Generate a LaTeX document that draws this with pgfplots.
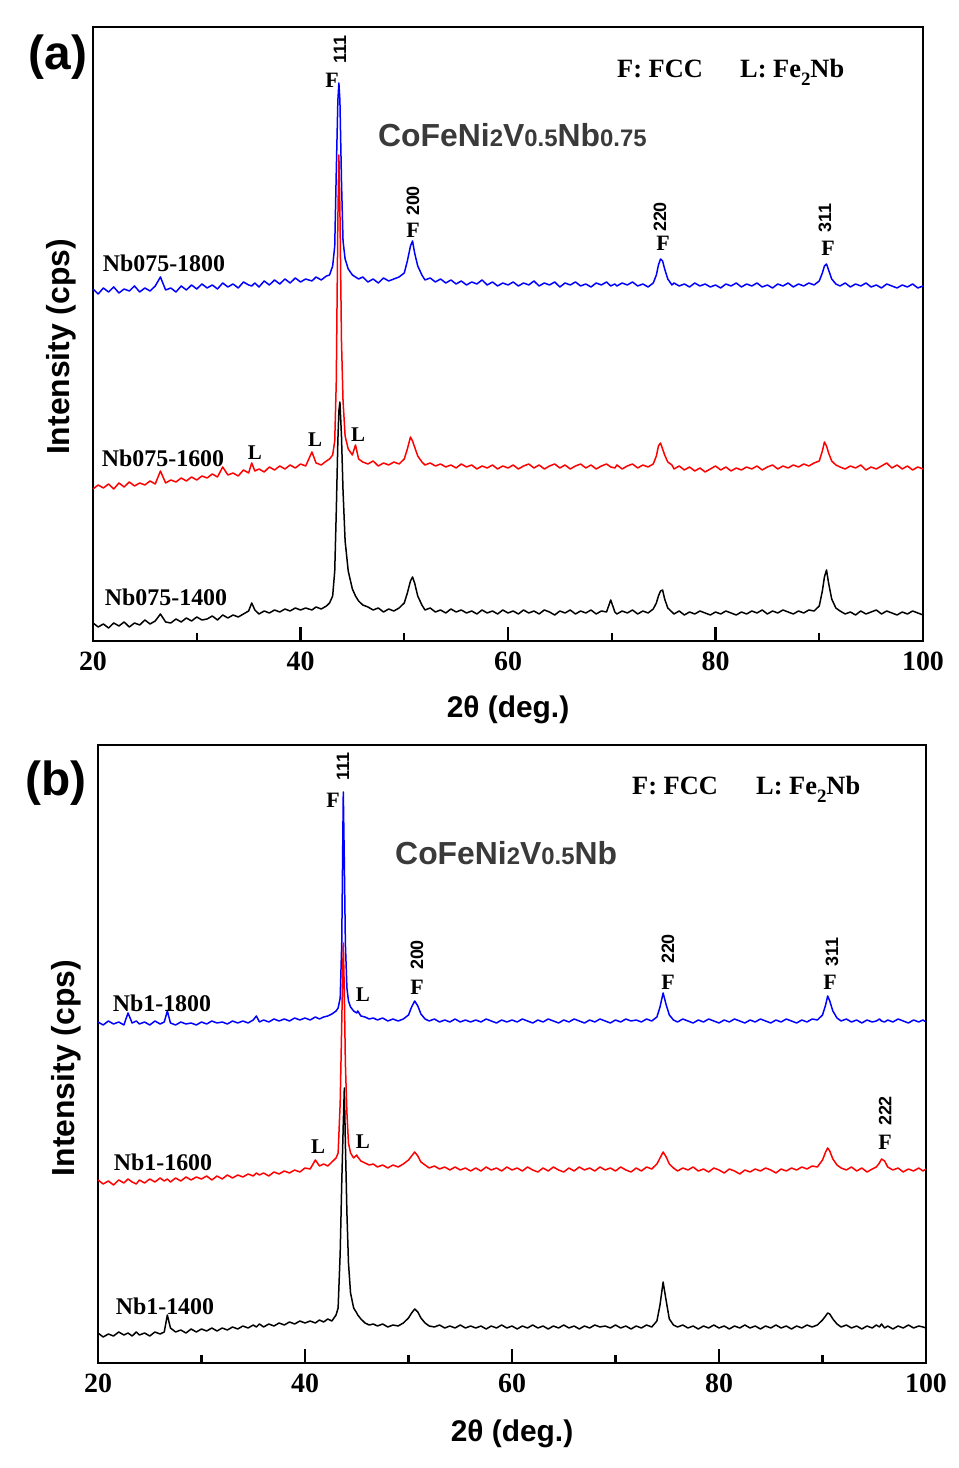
\documentclass[border=0pt]{standalone}
\usepackage{fontspec}
\setmainfont{Liberation Serif}
\newfontfamily\lsans{Liberation Sans}
\usepackage{pgfplots}
\usepackage{pgfplotstable}
\pgfplotsset{compat=1.18}
\definecolor{dgray}{RGB}{58,58,58}

% Panel (a): columns b = Nb075-1800, r = Nb075-1600, k = Nb075-1400 (offset intensities)
\pgfplotstableread{
x b r k
20.0 352 152 18
20.5 347 156 14
21.0 353 153 17
21.5 349 157 13
22.0 354 152 18
22.5 348 158 15
23.0 352 154 19
23.5 350 159 14
24.0 355 155 18
24.5 349 158 16
25.0 353 156 21
25.5 350 160 17
26.0 355 157 20
26.5 364 170 27
27.0 351 158 19
27.5 353 161 18
28.0 349 159 22
28.5 355 163 19
29.0 351 160 23
29.5 356 164 20
30.0 352 161 24
30.5 357 165 21
31.0 353 163 22
31.5 356 167 25
32.0 352 164 21
32.5 358 174 26
33.0 354 166 23
33.5 357 168 26
34.0 353 165 24
34.5 359 171 27
35.0 356 168 30
35.3 355 178 38
35.6 358 170 31
36.0 354 172 27
36.5 360 169 30
37.0 356 174 28
37.5 361 171 31
38.0 357 175 29
38.5 362 172 32
39.0 358 176 30
39.5 363 173 33
40.0 359 177 31
40.5 362 175 33
41.1 360 189 31
41.5 364 178 34
42.0 361 176 32
42.5 365 180 35
42.8 366 182 38
43.1 375 186 45
43.3 395 200 70
43.45 470 260 130
43.6 540 420 200
43.7 558 486 230
43.8 540 430 239
43.95 460 300 205
44.1 400 240 150
44.3 382 205 100
44.6 372 192 70
45.0 366 186 52
45.3 364 196 45
45.6 362 182 40
46.0 364 179 36
46.5 359 177 34
47.0 362 180 31
47.5 358 175 33
48.0 363 178 29
48.5 360 176 32
49.0 362 179 30
49.5 364 177 33
50.0 368 182 38
50.3 380 192 48
50.6 395 204 60
50.8 400 200 64
51.0 388 194 58
51.3 375 185 45
51.7 366 179 36
52.0 361 176 31
52.5 363 178 33
53.0 359 175 29
53.5 362 177 31
54.0 358 174 28
54.5 361 176 32
55.0 357 173 29
55.5 360 177 31
56.0 356 174 28
56.5 359 176 30
57.0 357 172 27
57.5 361 175 31
58.0 356 173 28
58.5 359 176 30
59.0 355 172 27
59.5 358 175 31
60.0 356 173 28
60.5 359 176 30
61.0 355 172 27
61.5 358 175 31
62.0 356 177 28
62.5 360 173 30
63.0 355 176 27
63.5 358 172 31
64.0 356 175 29
64.5 359 177 26
65.0 354 173 30
65.5 358 176 28
66.0 356 172 31
66.5 359 175 27
67.0 355 177 30
67.5 357 173 28
68.0 354 176 31
68.5 358 172 27
69.0 356 175 30
69.5 359 177 29
69.9 355 174 41
70.3 357 173 29
70.5 355 176 27
71.0 358 172 30
71.5 356 175 28
72.0 359 177 31
72.5 355 173 27
73.0 357 176 30
73.5 354 174 28
74.0 358 177 32
74.3 366 185 38
74.5 376 195 45
74.7 382 198 50
74.9 380 192 51
75.1 372 186 42
75.4 362 179 33
75.8 356 176 29
76.0 358 172 27
76.5 355 175 30
77.0 357 171 26
77.5 354 174 29
78.0 358 170 27
78.5 355 173 30
79.0 357 169 28
79.5 354 172 26
80.0 356 175 29
80.5 353 171 27
81.0 357 174 30
81.5 355 170 28
82.0 358 173 26
82.5 354 171 29
83.0 357 174 27
83.5 355 172 30
84.0 358 175 28
84.5 354 171 31
85.0 356 174 27
85.5 353 176 30
86.0 357 172 28
86.5 355 175 31
87.0 358 173 29
87.5 354 176 27
88.0 357 174 30
88.5 355 177 28
89.0 358 175 31
89.5 356 178 30
90.0 360 180 35
90.3 368 190 50
90.5 375 199 64
90.7 377 195 71
90.9 371 188 58
91.2 362 180 42
91.6 357 176 33
92.0 355 174 30
92.5 358 172 27
93.0 354 175 29
93.5 357 173 26
94.0 355 176 30
94.5 358 171 27
95.0 354 174 29
95.5 356 172 31
96.0 353 175 27
96.5 357 178 30
97.0 355 173 28
97.5 353 176 26
98.0 356 172 29
98.5 354 175 27
99.0 357 171 30
99.5 353 174 28
100.0 355 172 26
}\tablea

% Panel (b): columns b = Nb1-1800, r = Nb1-1600, k = Nb1-1400 (offset intensities)
\pgfplotstableread{
x b r k
20.0 341 183 30
20.5 338 179 26
21.0 342 182 29
21.5 339 178 27
22.0 341 183 31
22.5 338 180 28
22.9 350 184 30
23.3 340 181 27
23.7 342 179 31
24.0 339 183 28
24.5 341 180 30
25.0 338 184 27
25.5 342 181 31
26.0 339 185 29
26.4 341 182 31
26.7 352 184 48
27.0 340 181 35
27.5 338 185 31
28.0 341 182 33
28.5 339 186 30
29.0 340 183 34
29.5 338 186 31
30.0 341 184 34
30.5 339 187 32
31.0 342 183 35
31.5 340 187 32
32.0 341 184 35
32.5 339 188 33
33.0 342 185 36
33.5 340 188 34
34.0 342 186 37
34.5 340 189 35
35.0 343 187 38
35.3 347 190 36
35.6 341 188 39
36.0 343 190 36
36.5 341 187 39
37.0 344 191 37
37.5 342 189 40
38.0 344 192 38
38.5 342 190 41
39.0 345 193 39
39.5 343 191 42
40.0 345 195 40
40.5 343 194 42
41.0 346 203 40
41.4 344 197 43
41.8 346 199 41
42.2 347 197 44
42.6 349 201 42
43.0 352 205 48
43.2 355 210 55
43.4 365 260 110
43.55 420 340 180
43.7 571 420 240
43.8 500 370 275
43.9 420 300 220
44.05 375 250 150
44.2 362 220 100
44.4 356 210 70
44.7 352 205 55
45.0 350 208 50
45.1 352 206 48
45.4 347 202 44
45.8 346 200 40
46.2 344 198 38
46.6 345 199 39
47.0 343 196 37
47.5 345 198 39
48.0 342 195 36
48.5 344 198 38
49.0 342 196 37
49.5 344 199 40
50.0 348 203 45
50.3 356 207 50
50.6 362 211 54
50.9 357 207 51
51.2 349 201 45
51.6 344 198 40
52.0 342 195 37
52.5 344 197 36
53.0 341 194 38
53.5 343 196 35
54.0 341 193 37
54.5 344 196 35
55.0 341 193 38
55.5 343 195 35
56.0 341 192 37
56.5 343 195 35
57.0 341 192 37
57.5 344 196 34
58.0 342 193 37
58.5 340 195 35
59.0 343 192 38
59.5 341 196 35
60.0 343 193 37
60.5 341 195 34
61.0 344 192 37
61.5 342 196 35
62.0 340 193 38
62.5 343 191 35
63.0 341 195 37
63.5 344 192 34
64.0 342 196 37
64.5 340 193 35
65.0 343 191 38
65.5 341 195 35
66.0 344 192 37
66.5 342 196 34
67.0 340 193 37
67.5 343 195 35
68.0 341 192 38
68.5 344 196 36
69.0 342 193 37
69.5 340 195 35
70.0 343 192 38
70.5 341 196 35
71.0 344 193 37
71.5 342 191 34
72.0 343 195 37
72.5 341 192 35
73.0 344 196 38
73.5 342 194 36
74.0 346 199 42
74.3 356 205 58
74.6 370 211 81
74.9 358 206 62
75.2 348 199 44
75.6 343 195 38
76.0 341 192 36
76.5 344 195 38
77.0 342 193 35
77.5 340 196 37
78.0 343 192 34
78.5 341 194 37
79.0 344 191 35
79.5 342 195 38
80.0 340 193 35
80.5 343 190 37
81.0 341 194 34
81.5 344 192 37
82.0 342 189 35
82.5 340 193 38
83.0 343 191 35
83.5 341 194 37
84.0 344 192 34
84.5 342 195 37
85.0 340 193 35
85.5 343 190 38
86.0 341 194 35
86.5 344 192 37
87.0 342 195 34
87.5 340 193 37
88.0 343 196 35
88.5 341 194 38
89.0 344 197 36
89.5 343 196 38
90.0 348 203 43
90.3 358 211 47
90.5 367 215 50
90.7 362 212 49
91.0 352 204 44
91.4 345 198 39
91.8 342 195 36
92.3 344 193 38
92.8 341 196 35
93.3 343 192 37
93.8 340 195 34
94.3 343 191 37
94.8 341 194 35
95.2 342 196 38
95.5 344 200 36
95.7 342 204 39
96.0 341 202 35
96.3 343 196 37
96.8 341 193 34
97.3 344 195 37
97.8 342 191 35
98.3 340 194 38
98.8 343 192 35
99.3 341 195 37
99.7 343 192 36
100.0 341 194 35
}\tableb

\pgfplotsset{
  xrd/.style={
    anchor=south west, scale only axis,
    xmin=20, xmax=100, ymin=0,
    xtick={20,40,60,80,100}, minor xtick={30,50,70,90},
    ytick=\empty, xtick pos=bottom, tick align=inside,
    major tick length=14bp, minor tick length=8bp,
    axis line style={line width=2.4bp},
    every tick/.style={black, line width=2.4bp},
    /pgf/number format/assume math mode=true,
    xticklabel style={font=\fontsize{28}{28}\selectfont\bfseries, yshift=-7bp},
    label style={font=\lsans\bfseries\fontsize{30}{30}\selectfont},
    ylabel style={font=\lsans\bfseries\fontsize{32}{32}\selectfont},
    xlabel={2θ (deg.)}, ylabel={Intensity (cps)},
    every axis plot/.append style={line width=1.5bp, line join=round},
    clip=false,
  },
}
\tikzset{
  pk/.style={font=\bfseries\fontsize{22}{22}\selectfont, inner sep=0pt},
  hkl/.style={font=\lsans\bfseries\fontsize{18}{18}\selectfont, rotate=90, inner sep=0pt},
  Lb/.style={font=\bfseries\fontsize{21}{21}\selectfont, inner sep=0pt},
  smp/.style={font=\bfseries\fontsize{24}{24}\selectfont, inner sep=0pt},
  leg/.style={font=\bfseries\fontsize{26.5}{26.5}\selectfont, inner sep=0pt, anchor=base west},
  comp/.style={font=\lsans\bfseries\fontsize{32}{32}\selectfont, text=dgray, inner sep=0pt, anchor=base west},
}
\newcommand{\sm}[1]{{\fontsize{24}{24}\selectfont #1}}
\newcommand{\subtwo}{\raisebox{-0.28em}{\fontsize{19}{19}\selectfont 2}}

\begin{document}
\begin{tikzpicture}
\path[use as bounding box] (0,0) rectangle (959bp,1468bp);

% ---------------- panel (a)
\begin{axis}[xrd, at={(93bp,827bp)}, width=830bp, height=614bp, ymax=614,
  xlabel style={at={(axis description cs:0.5,-0.112)}, anchor=center},
  ylabel style={at={(axis description cs:-0.0386,0.479)}, anchor=center}]
\addplot[black] table[x=x, y=k] {\tablea};
\addplot[red] table[x=x, y=r] {\tablea};
\addplot[blue] table[x=x, y=b] {\tablea};
\node[pk] at (axis cs:43.04,561) {F};
\node[hkl] at (axis cs:43.8,591) {111};
\node[pk] at (axis cs:50.84,411) {F};
\node[hkl] at (axis cs:50.84,440) {200};
\node[pk] at (axis cs:74.94,398) {F};
\node[hkl] at (axis cs:74.65,424) {220};
\node[pk] at (axis cs:90.84,393) {F};
\node[hkl] at (axis cs:90.55,423) {311};
\node[Lb] at (axis cs:35.61,188) {L};
\node[Lb] at (axis cs:41.40,201) {L};
\node[Lb] at (axis cs:45.54,206) {L};
\node[smp] at (axis cs:26.84,378) {Nb075-1800};
\node[smp] at (axis cs:26.75,183) {Nb075-1600};
\node[smp] at (axis cs:27.04,44) {Nb075-1400};
\node[leg] at (axis cs:70.5,563) {F: FCC};
\node[leg] at (axis cs:82.36,563) {L: Fe\subtwo Nb};
\node[comp] at (axis cs:47.47,494) {CoFeNi\sm{2}V\sm{0.5}Nb\sm{0.75}};
\end{axis}

% ---------------- panel (b)
\begin{axis}[xrd, at={(98bp,105bp)}, width=828bp, height=618bp, ymax=618,
  xlabel style={at={(axis description cs:0.5,-0.115)}, anchor=center},
  ylabel style={at={(axis description cs:-0.0386,0.477)}, anchor=center}]
\addplot[black] table[x=x, y=k] {\tableb};
\addplot[red] table[x=x, y=r] {\tableb};
\addplot[blue] table[x=x, y=b] {\tableb};
\node[pk] at (axis cs:42.71,563) {F};
\node[hkl] at (axis cs:43.67,596) {111};
\node[pk] at (axis cs:50.82,376) {F};
\node[hkl] at (axis cs:50.82,408) {200};
\node[pk] at (axis cs:75.07,381) {F};
\node[hkl] at (axis cs:75.07,414) {220};
\node[pk] at (axis cs:90.72,381) {F};
\node[hkl] at (axis cs:90.92,411) {311};
\node[pk] at (axis cs:96.04,221) {F};
\node[hkl] at (axis cs:96.04,252) {222};
\node[Lb] at (axis cs:45.60,368) {L};
\node[Lb] at (axis cs:41.26,216) {L};
\node[Lb] at (axis cs:45.60,221) {L};
\node[smp] at (axis cs:26.18,360) {Nb1-1800};
\node[smp] at (axis cs:26.28,201) {Nb1-1600};
\node[smp] at (axis cs:26.47,57) {Nb1-1400};
\node[leg] at (axis cs:71.59,568) {F: FCC};
\node[leg] at (axis cs:83.57,568) {L: Fe\subtwo Nb};
\node[comp] at (axis cs:48.70,498) {CoFeNi\sm{2}V\sm{0.5}Nb};
\end{axis}

\node[font=\lsans\bfseries\fontsize{48}{48}\selectfont, inner sep=0pt] at (58bp,1411bp) {(a)};
\node[font=\lsans\bfseries\fontsize{48}{48}\selectfont, inner sep=0pt] at (56bp,685bp) {(b)};
\end{tikzpicture}
\end{document}
